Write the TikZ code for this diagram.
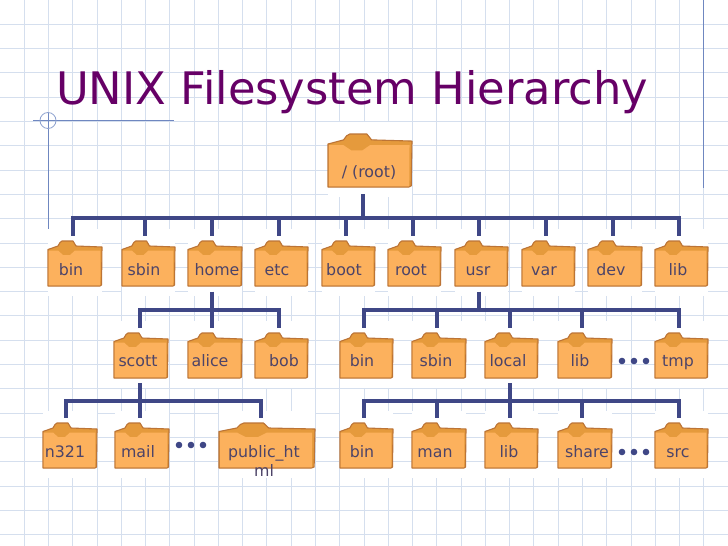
\documentclass[tikz,border=0pt]{standalone}
\usepackage{fontspec}
\setmainfont{DejaVu Sans}
\definecolor{gridc}{HTML}{D5DFEE}
\definecolor{orn}{HTML}{6F87C0}
\definecolor{ornc}{HTML}{8FA3D0}
\definecolor{busc}{HTML}{3F4786}
\definecolor{titlec}{HTML}{660066}
\definecolor{labelc}{HTML}{4D4468}
\definecolor{fback}{HTML}{E59A3C}
\definecolor{ffront}{HTML}{FCB15D}
\definecolor{fedge}{HTML}{BC7436}
\pgfdeclarelayer{gridlayer}
\pgfdeclarelayer{halolayer}
\pgfsetlayers{gridlayer,halolayer,main}
\tikzset{
  x=1pt,y=-1pt,
  gridline/.style={gridc,line width=1pt},
  ornline/.style={orn,line width=0.8pt},
  conn/.style={busc,line width=4pt,line join=miter},
  busline/.style={conn,line cap=rect},
  stemline/.style={conn,shorten >=5pt},
  lbl/.style={text=labelc,font=\fontsize{15.8}{19}\selectfont,inner sep=0pt,anchor=base},
  dotc/.style={fill=busc,draw=none},
}
\newcommand{\folder}[8]{%
  \begin{pgfonlayer}{halolayer}
    \fill[white] (#2,#3-12) rectangle (#2+#4,#3+#5+9.5);
  \end{pgfonlayer}
  \begin{scope}[shift={(#2,#3)},xscale=#4/54,yscale=#5/45]
    \filldraw[fill=fback,draw=fedge,line width=1.1pt,line join=round]
      (0,8.5) -- (10,5) -- (12,1.5) -- (14,0) -- (25,0) -- (28,5) -- (54,6) -- (53.5,44) -- (52,45) -- (0,45) -- cycle;
    \fill[ffront]
      (0.6,9.5) -- (10,9.5) -- (15,14) -- (22,14) -- (27,9.5) -- (52.4,9.5) -- (52.2,44.4) -- (0.6,44.4) -- cycle;
  \end{scope}
  \node[inner sep=0pt,outer sep=0pt,minimum width=#4pt,minimum height=#5pt] (#1) at (#2+#4/2,#3+#5/2) {};
  \node[lbl] (#1t) at (#6,#7) {#8};
}
\newcommand{\threedots}[4]{%
  \fill[dotc] (#1,#4) circle (3.3pt);
  \fill[dotc] (#2,#4) circle (3.3pt);
  \fill[dotc] (#3,#4) circle (3.3pt);
}
\begin{document}
\begin{tikzpicture}
\useasboundingbox (0,0) rectangle (728,546);
\begin{pgfonlayer}{gridlayer}
\fill[white] (0,0) rectangle (728,546);
\foreach \k in {1,...,30} {\draw[gridline] (24.27*\k,0) -- (24.27*\k,546);}
\foreach \k in {1,...,22} {\draw[gridline] (0,24.3*\k) -- (728,24.3*\k);}
% ornament
\draw[ornline] (33,120.5) -- (174,120.5);
\draw[ornline] (48,112) -- (48,230);
\draw[ornline] (703.5,0) -- (703.5,188);
\draw[ornc,line width=0.8pt] (48,120.5) circle (8);
\end{pgfonlayer}
% title
\node[anchor=base west,text=titlec,font=\fontsize{44.8}{54}\selectfont,inner sep=0pt] (title) at (56,104) {UNIX Filesystem Hierarchy};
% folders
\folder{root}{328}{134}{84}{53}{369}{177}{/ (root)}
\folder{bin}{48}{241}{54}{45}{71}{275.5}{bin}
\folder{sbin}{122}{241}{53}{45}{144}{275.5}{sbin}
\folder{home}{188}{241}{54}{45}{217}{275.5}{home}
\folder{etc}{255}{241}{53}{45}{277}{275.5}{etc}
\folder{boot}{322}{241}{53}{45}{344}{275.5}{boot}
\folder{rootd}{388}{241}{53}{45}{411}{275.5}{root}
\folder{usr}{455}{241}{53}{45}{478}{275.5}{usr}
\folder{var}{522}{241}{53}{45}{544}{275.5}{var}
\folder{dev}{588}{241}{54}{45}{611}{275.5}{dev}
\folder{lib}{655}{241}{53}{45}{678}{275.5}{lib}
\folder{scott}{114}{333}{54}{45}{138}{366}{scott}
\folder{alice}{188}{333}{54}{45}{210}{366}{alice}
\folder{bob}{255}{333}{53}{45}{284}{366}{bob}
\folder{ubin}{340}{333}{53}{45}{362}{366}{bin}
\folder{usbin}{412}{333}{54}{45}{436}{366}{sbin}
\folder{local}{485}{333}{53}{45}{508}{366}{local}
\folder{ulib}{558}{333}{54}{45}{580}{366}{lib}
\folder{tmp}{655}{333}{53}{45}{678}{366}{tmp}
\folder{n321}{43}{423}{54}{45}{65}{457}{n321}
\folder{mail}{115}{423}{54}{45}{138}{457}{mail}
\folder{pub}{219}{423}{96}{45}{264}{457}{public\_ht}
\node[lbl] (pubb) at (264,476) {ml};
\folder{lbin}{340}{423}{53}{45}{362}{457}{bin}
\folder{man}{412}{423}{54}{45}{435}{457}{man}
\folder{llib}{485}{423}{53}{45}{509}{457}{lib}
\folder{share}{558}{423}{54}{45}{587}{457}{share}
\folder{src}{655}{423}{53}{45}{678}{457}{src}
% ellipsis dots
\threedots{179}{191}{203}{445}
\threedots{622}{634}{646}{361}
\threedots{622}{634}{646}{452}
% connectors: top level
\coordinate (j0) at (363,218);
\draw[conn] ([yshift=-7pt]j0 |- root.south) -- (j0);
\foreach \n/\x in {bin/73,sbin/145,home/212,etc/279,boot/346,rootd/412.5,usr/479,var/546,dev/612.5,lib/679}{
  \coordinate (t\n) at (\x,218);
  \draw[stemline] (t\n) -- (t\n |- \n.north);
}
\draw[busline] (tbin) -- (tlib);
% home children
\coordinate (h0) at (212,309.5);
\draw[conn] ([yshift=-5.5pt]h0 |- home.south) -- (h0);
\foreach \n/\x in {scott/140,alice/212,bob/279}{
  \coordinate (t\n) at (\x,309.5);
  \draw[stemline] (t\n) -- (t\n |- \n.north);
}
\draw[busline] (tscott) -- (tbob);
% usr children
\coordinate (u0) at (479,309.5);
\draw[conn] ([yshift=-5.5pt]u0 |- usr.south) -- (u0);
\foreach \n/\x in {ubin/364,usbin/437,local/510,ulib/582,tmp/679}{
  \coordinate (t\n) at (\x,309.5);
  \draw[stemline] (t\n) -- (t\n |- \n.north);
}
\draw[busline] (tubin) -- (ttmp);
% scott children
\coordinate (s0) at (139.5,400.5);
\draw[conn] ([yshift=-5pt]s0 |- scott.south) -- (s0);
\foreach \n/\x in {n321/66,mail/139.5,pub/261}{
  \coordinate (t\n) at (\x,400.5);
  \draw[stemline] (t\n) -- (t\n |- \n.north);
}
\draw[busline] (tn321) -- (tpub);
% local children
\coordinate (l0) at (510,400.5);
\draw[conn] ([yshift=-5pt]l0 |- local.south) -- (l0);
\foreach \n/\x in {lbin/364,man/437,llib/510,share/582,src/679}{
  \coordinate (t\n) at (\x,400.5);
  \draw[stemline] (t\n) -- (t\n |- \n.north);
}
\draw[busline] (tlbin) -- (tsrc);
\end{tikzpicture}
\end{document}
